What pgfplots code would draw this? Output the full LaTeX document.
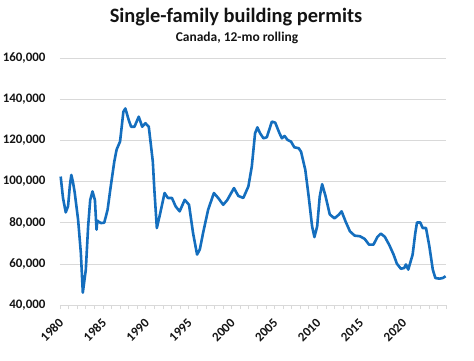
\documentclass[border=0pt]{standalone}
\usepackage{pgfplots}
\pgfplotsset{compat=1.18}
\usepackage{fontspec}
\setmainfont{Carlito}
\definecolor{lineblue}{RGB}{20,110,190}
\definecolor{gridgray}{RGB}{217,217,217}
\definecolor{txt}{RGB}{20,20,20}
\begin{document}
\begin{tikzpicture}
\begin{axis}[
  at={(0,0)}, anchor=south west,
  scale only axis, width=386bp, height=247bp,
  xmin=1980, xmax=2025, ymin=40000, ymax=160000,
  axis x line*=bottom, axis y line*=left,
  y axis line style={draw=none},
  x axis line style={draw=gridgray, line width=0.8pt},
  xtick={1980,1985,...,2020},
  xticklabels={1980,1985,1990,1995,2000,2005,2010,2015,2020},
  minor xtick={1981,...,2025},
  tick align=outside, major tick length=4bp, minor tick length=4bp,
  tick style={draw=gridgray, line width=0.6pt},
  ytick style={draw=none},
  ytick={40000,60000,80000,100000,120000,140000,160000},
  yticklabels={{40,000},{60,000},{80,000},{100,000},{120,000},{140,000},{160,000}},
  ymajorgrids, grid style={gridgray, line width=0.6pt},
  scaled y ticks=false,
  ticklabel style={font=\fontsize{13}{15}\selectfont\bfseries, text=txt},
  yticklabel style={xshift=-7bp},
  xticklabel style={xshift=2bp, yshift=-11bp, rotate=45, anchor=east, inner sep=1bp},
  clip=false,
]
\addplot[lineblue, line width=2.6bp, line join=round] coordinates {
(1980.08,102400) (1980.35,92000) (1980.67,85000) (1980.94,88000) (1981.15,98000)
(1981.32,103200) (1981.5,100000) (1981.72,94500) (1982.11,81500) (1982.43,65300)
(1982.66,46000) (1983.01,57200) (1983.28,78200) (1983.52,91000) (1983.79,95200)
(1984.07,91000) (1984.26,76600) (1984.35,81000) (1984.45,80600) (1984.77,79800)
(1985.16,80000) (1985.55,86300) (1985.86,96000) (1986.33,109700) (1986.6,115500)
(1987.00,119400) (1987.39,133900) (1987.62,135500) (1988.01,129900) (1988.29,126600)
(1988.68,126600) (1989.18,131500) (1989.58,126600) (1989.96,128300) (1990.35,126600)
(1990.82,109700) (1991.0,96000) (1991.29,77400) (1991.69,84700) (1992.19,94400)
(1992.58,92000) (1993.05,92000) (1993.48,87900) (1993.95,85500) (1994.54,91100)
(1995.04,88700) (1995.51,75000) (1995.98,64500) (1996.30,67000) (1996.68,75000)
(1997.27,86300) (1997.94,94400) (1998.44,92000) (1999.03,88700) (1999.50,91000)
(2000.28,96800) (2000.79,93000) (2001.37,92000) (2001.96,97600) (2002.36,107300)
(2002.74,123400) (2003.01,126300) (2003.33,123400) (2003.72,121000) (2004.11,121500)
(2004.70,129100) (2005.09,128600) (2005.59,123400) (2005.87,121000) (2006.18,122100)
(2006.53,120200) (2006.93,119400) (2007.32,116600) (2007.82,116200) (2008.10,114500)
(2008.60,105600) (2008.99,92700) (2009.39,78200) (2009.66,73000) (2009.98,78200)
(2010.28,92700) (2010.56,98700) (2010.95,93000) (2011.45,84000) (2012.00,82100)
(2012.51,83900) (2012.83,85500) (2013.29,80600) (2013.80,75800) (2014.35,73700)
(2014.97,73400) (2015.52,72100) (2016.03,69300) (2016.54,69300) (2017.01,73100)
(2017.40,74700) (2017.87,73100) (2018.37,69300) (2018.89,64500) (2019.27,60100)
(2019.74,57600) (2020.13,58000) (2020.33,59700) (2020.60,57200) (2021.11,64500)
(2021.42,75000) (2021.62,80100) (2022.00,80100) (2022.28,77400) (2022.67,77400)
(2023.06,68500) (2023.46,57200) (2023.76,53100) (2024.23,52800) (2024.63,53100)
(2024.95,54000)
};
\end{axis}
\node[font=\fontsize{20.5}{24}\selectfont\bfseries, text=txt] at (176bp,288bp) {Single-family building permits};
\node[font=\fontsize{13.5}{16}\selectfont\bfseries, text=txt] at (177bp,267bp) {Canada, 12-mo rolling};
\pgfresetboundingbox
\path[use as bounding box] (-60bp,-56bp) rectangle (414bp,305bp);
\end{tikzpicture}
\end{document}
